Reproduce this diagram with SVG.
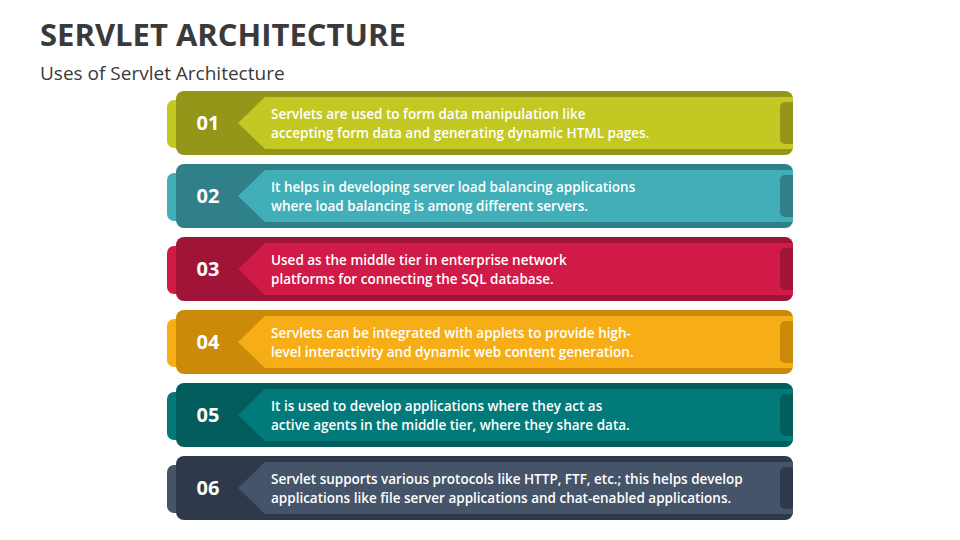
<svg xmlns="http://www.w3.org/2000/svg" width="960" height="540" viewBox="0 0 960 540">
<style>
.t{font-family:"Open Sans","Liberation Sans",sans-serif;fill:#fff;font-weight:600;font-size:13.5px}
.n{font-family:"Open Sans","Liberation Sans",sans-serif;fill:#fff;font-weight:700;font-size:20px;text-anchor:middle}
</style>
<defs>
<g id="row">
<rect x="167" y="9" width="24" height="48" rx="7"/>
<rect class="d" x="176" y="0" width="617" height="64" rx="8"/>
<polygon class="l" points="265,6 793,6 793,58 265,58 238,32"/>
<rect class="d" x="780" y="11" width="20" height="42" rx="5"/>
</g>
</defs>
<rect width="960" height="540" fill="#fff"/>
<text x="40" y="46" font-family="'Open Sans','Liberation Sans',sans-serif" font-weight="700" font-size="31" fill="#3a3a3a">SERVLET ARCHITECTURE</text>
<text x="40" y="80" font-family="'Open Sans','Liberation Sans',sans-serif" font-size="19" fill="#3a3a3a">Uses of Servlet Architecture</text>
<svg x="0" y="0" width="793" height="540" overflow="hidden">
<g id="n1" transform="translate(0,91)">
<rect x="167" y="9" width="24" height="48" rx="7" fill="#C3C823"/><rect x="176" y="0" width="617" height="64" rx="8" fill="#94961A"/><polygon points="265,6 793,6 793,58 265,58 238,32" fill="#C3C823"/><rect x="780" y="11" width="20" height="42" rx="5" fill="#94961A"/>
<text class="n" x="208" y="39">01</text>
<text class="t" x="271" y="28">Servlets are used to form data manipulation like</text>
<text class="t" x="271" y="47">accepting form data and generating dynamic HTML pages.</text>
</g>
<g id="n2" transform="translate(0,164)">
<rect x="167" y="9" width="24" height="48" rx="7" fill="#42AFB8"/><rect x="176" y="0" width="617" height="64" rx="8" fill="#2F8088"/><polygon points="265,6 793,6 793,58 265,58 238,32" fill="#42AFB8"/><rect x="780" y="11" width="20" height="42" rx="5" fill="#2F8088"/>
<text class="n" x="208" y="39">02</text>
<text class="t" x="271" y="28">It helps in developing server load balancing applications</text>
<text class="t" x="271" y="47">where load balancing is among different servers.</text>
</g>
<g id="n3" transform="translate(0,237)">
<rect x="167" y="9" width="24" height="48" rx="7" fill="#D01A47"/><rect x="176" y="0" width="617" height="64" rx="8" fill="#A01437"/><polygon points="265,6 793,6 793,58 265,58 238,32" fill="#D01A47"/><rect x="780" y="11" width="20" height="42" rx="5" fill="#A01437"/>
<text class="n" x="208" y="39">03</text>
<text class="t" x="271" y="28">Used as the middle tier in enterprise network</text>
<text class="t" x="271" y="47">platforms for connecting the SQL database.</text>
</g>
<g id="n4" transform="translate(0,310)">
<rect x="167" y="9" width="24" height="48" rx="7" fill="#F7AE16"/><rect x="176" y="0" width="617" height="64" rx="8" fill="#CC8A09"/><polygon points="265,6 793,6 793,58 265,58 238,32" fill="#F7AE16"/><rect x="780" y="11" width="20" height="42" rx="5" fill="#CC8A09"/>
<text class="n" x="208" y="39">04</text>
<text class="t" x="271" y="28">Servlets can be integrated with applets to provide high-</text>
<text class="t" x="271" y="47">level interactivity and dynamic web content generation.</text>
</g>
<g id="n5" transform="translate(0,383)">
<rect x="167" y="9" width="24" height="48" rx="7" fill="#037A7A"/><rect x="176" y="0" width="617" height="64" rx="8" fill="#035D5D"/><polygon points="265,6 793,6 793,58 265,58 238,32" fill="#037A7A"/><rect x="780" y="11" width="20" height="42" rx="5" fill="#035D5D"/>
<text class="n" x="208" y="39">05</text>
<text class="t" x="271" y="28">It is used to develop applications where they act as</text>
<text class="t" x="271" y="47">active agents in the middle tier, where they share data.</text>
</g>
<g id="n6" transform="translate(0,456)">
<rect x="167" y="9" width="24" height="48" rx="7" fill="#46546A"/><rect x="176" y="0" width="617" height="64" rx="8" fill="#2E3A4C"/><polygon points="265,6 793,6 793,58 265,58 238,32" fill="#46546A"/><rect x="780" y="11" width="20" height="42" rx="5" fill="#2E3A4C"/>
<text class="n" x="208" y="39">06</text>
<text class="t" x="271" y="28">Servlet supports various protocols like HTTP, FTF, etc.; this helps develop</text>
<text class="t" x="271" y="47">applications like file server applications and chat-enabled applications.</text>
</g>
</svg>
<g id="connectors"/>
</svg>
